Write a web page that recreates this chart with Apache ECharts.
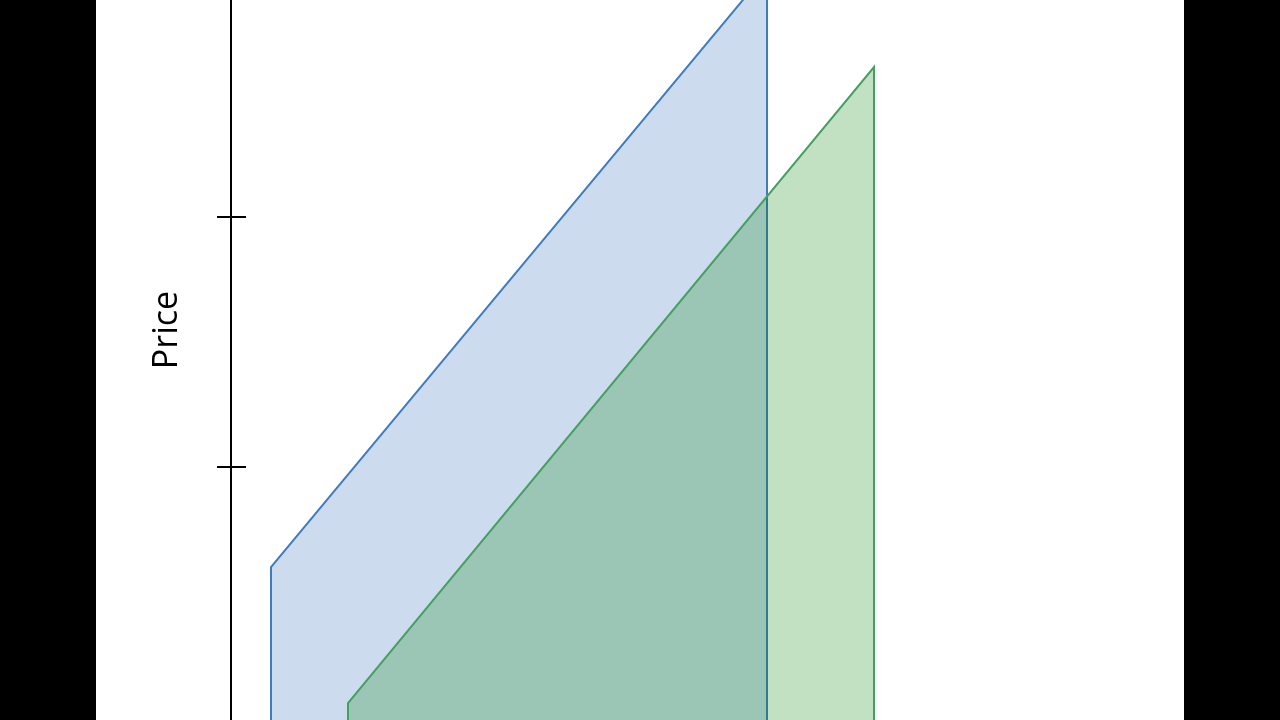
<!DOCTYPE html>
<html>
<head>
<meta charset="utf-8">
<script src="https://cdn.jsdelivr.net/npm/echarts@6/dist/echarts.min.js"></script>
<style>
  html, body { margin: 0; padding: 0; background: #000; width: 1280px; height: 720px; overflow: hidden; }
  #wrap { position: absolute; left: 96px; top: 0; width: 1088px; height: 720px; background: #fff; }
  #chart { width: 1088px; height: 720px; }
</style>
</head>
<body>
<div id="wrap"><div id="chart"></div></div>
<script>
// Data (price vs quantity)
const yTicks = [25, 50];
const blueX = [4, 4, 53.6, 53.6];
const blueY = [-10, 15, 74.6, -10];
const greenX = [11.7, 11.7, 64.3, 64.3];
const greenY = [-10, 1.4, 65, -10];

const chart = echarts.init(document.getElementById('chart'), null, { renderer: 'canvas' });

function polyRender(xs, ys, fill, stroke) {
  return function (params, api) {
    const points = xs.map((x, i) => api.coord([x, ys[i]]));
    return {
      type: 'polygon', shape: { points: points },
      style: { fill: fill, stroke: stroke, lineWidth: 2, lineJoin: 'miter' }
    };
  };
}

const yBase = {
  type: 'value', min: -0.3, max: 71.7, position: 'left',
  splitLine: { show: false }, axisLabel: { show: false }
};

chart.setOption({
  animation: false,
  grid: { left: 135, right: 0, top: 0, bottom: 0 },
  xAxis: { type: 'value', min: 0, max: 95.3, show: false },
  yAxis: [
    Object.assign({}, yBase, {
      name: 'Price', nameLocation: 'middle', nameRotate: 90, nameGap: 47,
      nameTextStyle: { fontFamily: 'Open Sans', fontSize: 34, color: '#000', padding: [0, 0, 0, 60] },
      axisLine: { show: true, lineStyle: { color: '#000', width: 2 } },
      axisTick: { show: true, inside: false, length: 14, customValues: yTicks, lineStyle: { color: '#000', width: 2 } }
    }),
    Object.assign({}, yBase, {
      axisLine: { show: false },
      axisTick: { show: true, inside: true, length: 15, customValues: yTicks, lineStyle: { color: '#000', width: 2 } }
    })
  ],
  series: [
    {
      type: 'custom', data: [[0, 0]], z: 2,
      renderItem: polyRender(blueX, blueY, '#ccdcee', '#3f7cbf')
    },
    {
      type: 'custom', data: [[0, 0]], z: 3,
      renderItem: polyRender(greenX, greenY, 'rgba(0,126,0,0.24)', '#45a060')
    }
  ]
});
</script>
</body>
</html>
